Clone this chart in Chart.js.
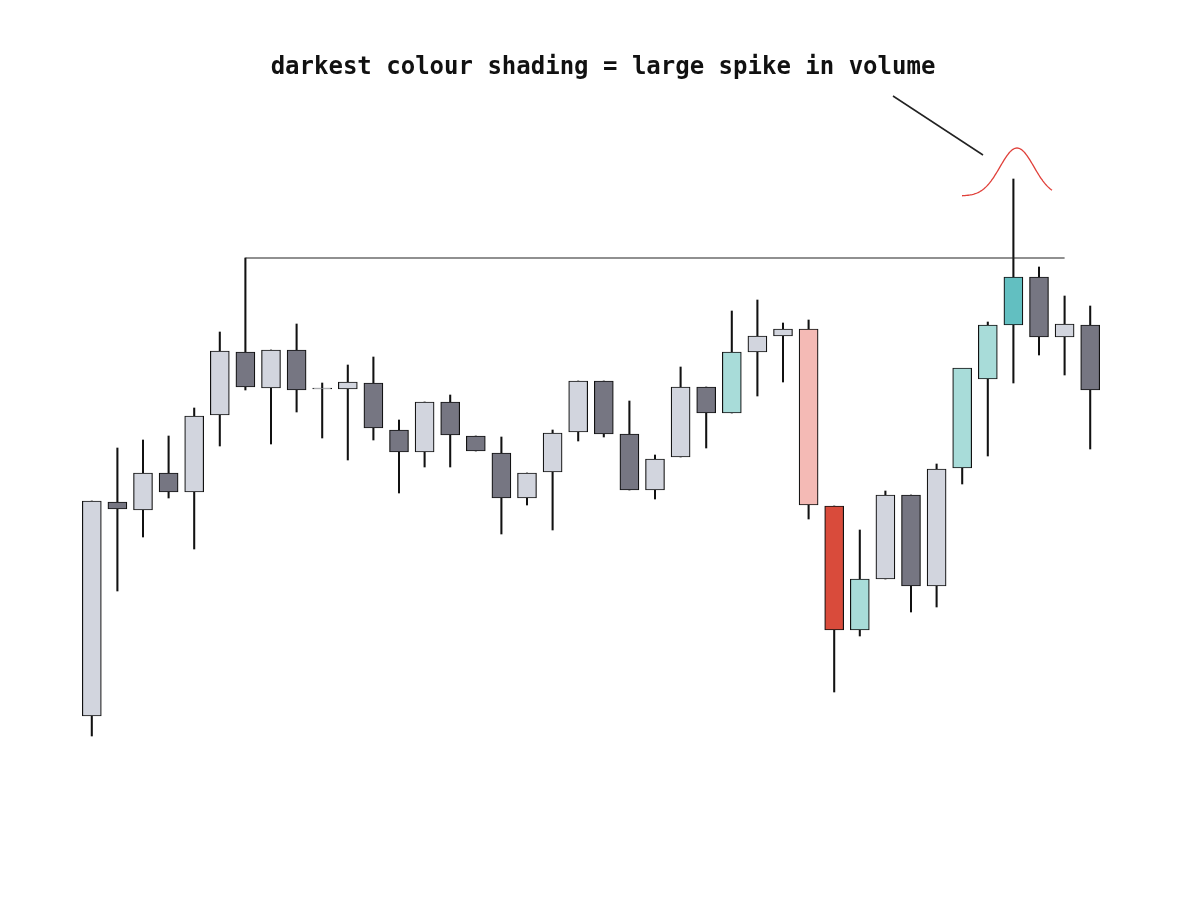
<!DOCTYPE html>
<html>
<head>
<meta charset="utf-8">
<script src="https://cdn.jsdelivr.net/npm/chart.js@4"></script>
<style>
  html, body { margin: 0; padding: 0; background: #fff; }
  #wrap { width: 1200px; height: 900px; }
</style>
</head>
<body>
<div id="wrap"><canvas id="chart"></canvas></div>
<script>
// price levels (arbitrary units, higher = up)
const opens  = [184, 391, 390, 427, 408, 485, 548, 512, 550, 511, 511, 517, 448, 448, 498, 449, 447, 402, 428, 468, 519, 466, 410, 443, 513, 487, 548, 564, 571, 394, 270, 321, 405, 314, 432, 521, 575, 623, 563, 575];
const closes = [399, 398, 427, 408, 484, 549, 513, 550, 510, 511, 518, 472, 470, 498, 465, 464, 402, 427, 467, 519, 466, 410, 441, 513, 487, 548, 564, 571, 395, 270, 321, 405, 314, 431, 532, 575, 623, 563, 576, 510];
const highs  = [399, 452, 460, 464, 492, 568, 642, 550, 576, 517, 535, 543, 480, 498, 505, 464, 463, 427, 470, 519, 519, 499, 445, 533, 513, 589, 600, 577, 580, 394, 370, 409, 405, 436, 521, 578, 721, 633, 604, 594];
const lows   = [164, 309, 363, 402, 351, 454, 510, 456, 488, 462, 440, 460, 407, 433, 433, 449, 366, 395, 370, 459, 463, 410, 401, 443, 452, 487, 504, 518, 381, 208, 264, 321, 288, 293, 416, 444, 517, 545, 525, 451];
const kinds  = ['l','d','l','d','l','l','d','l','d','l','l','d','d','l','d','d','d','l','l','l','d','d','l','l','d','t','l','l','p','r','t','l','d','l','t','t','T','d','l','d'];
const labels = opens.map((_, i) => String(i + 1));
const titleText = 'darkest colour shading = large spike in volume';

const FILL = { l: '#d2d5de', d: '#767682', t: '#a8dcd9', T: '#62bfc1', p: '#f4bab5', r: '#d94b3b' };

const overlay = {
  id: 'overlay',
  afterDraw(chart) {
    const { ctx, scales: { x, y } } = chart;
    ctx.save();
    ctx.fillStyle = '#111';
    ctx.font = 'bold 24px "DejaVu Sans Mono", "Liberation Mono", monospace';
    ctx.textAlign = 'center';
    ctx.textBaseline = 'middle';
    ctx.fillText(titleText, 603, 68);

    // resistance line from candle 7 to candle 39
    ctx.strokeStyle = '#222';
    ctx.lineWidth = 1.2;
    ctx.beginPath();
    ctx.moveTo(x.getPixelForValue(6), y.getPixelForValue(642));
    ctx.lineTo(x.getPixelForValue(38), y.getPixelForValue(642));
    ctx.stroke();

    // pointer line
    ctx.lineWidth = 1.5;
    ctx.beginPath();
    ctx.moveTo(893, 96);
    ctx.lineTo(983, 155);
    ctx.stroke();

    // red volume bump
    ctx.strokeStyle = '#e0403a';
    ctx.lineWidth = 1.3;
    ctx.beginPath();
    for (let px = 962; px <= 1052; px++) {
      const t = (px - 1017) / 17;
      const py = 196 - 48 * Math.exp(-t * t / 2);
      if (px === 962) ctx.moveTo(px, py); else ctx.lineTo(px, py);
    }
    ctx.stroke();
    ctx.restore();
  }
};

new Chart(document.getElementById('chart'), {
  type: 'bar',
  data: {
    labels: labels,
    datasets: [
      {
        data: lows.map((v, i) => [v, highs[i]]),
        backgroundColor: '#111',
        barThickness: 1.4,
        grouped: false,
        order: 2
      },
      {
        data: opens.map((v, i) => [v, Math.abs(closes[i] - v) < 1 ? v + 1 : closes[i]]),
        backgroundColor: kinds.map(k => FILL[k]),
        borderColor: '#111',
        borderWidth: 1.2,
        borderSkipped: false,
        barThickness: 19,
        grouped: false,
        order: 1
      }
    ]
  },
  options: {
    responsive: true,
    maintainAspectRatio: false,
    animation: false,
    layout: { padding: { left: 79, right: 97, top: 0, bottom: 0 } },
    plugins: { legend: { display: false }, tooltip: { enabled: false } },
    scales: {
      x: { display: false, offset: true },
      y: { display: false, min: 0, max: 900 }
    }
  },
  plugins: [overlay]
});
</script>
</body>
</html>
